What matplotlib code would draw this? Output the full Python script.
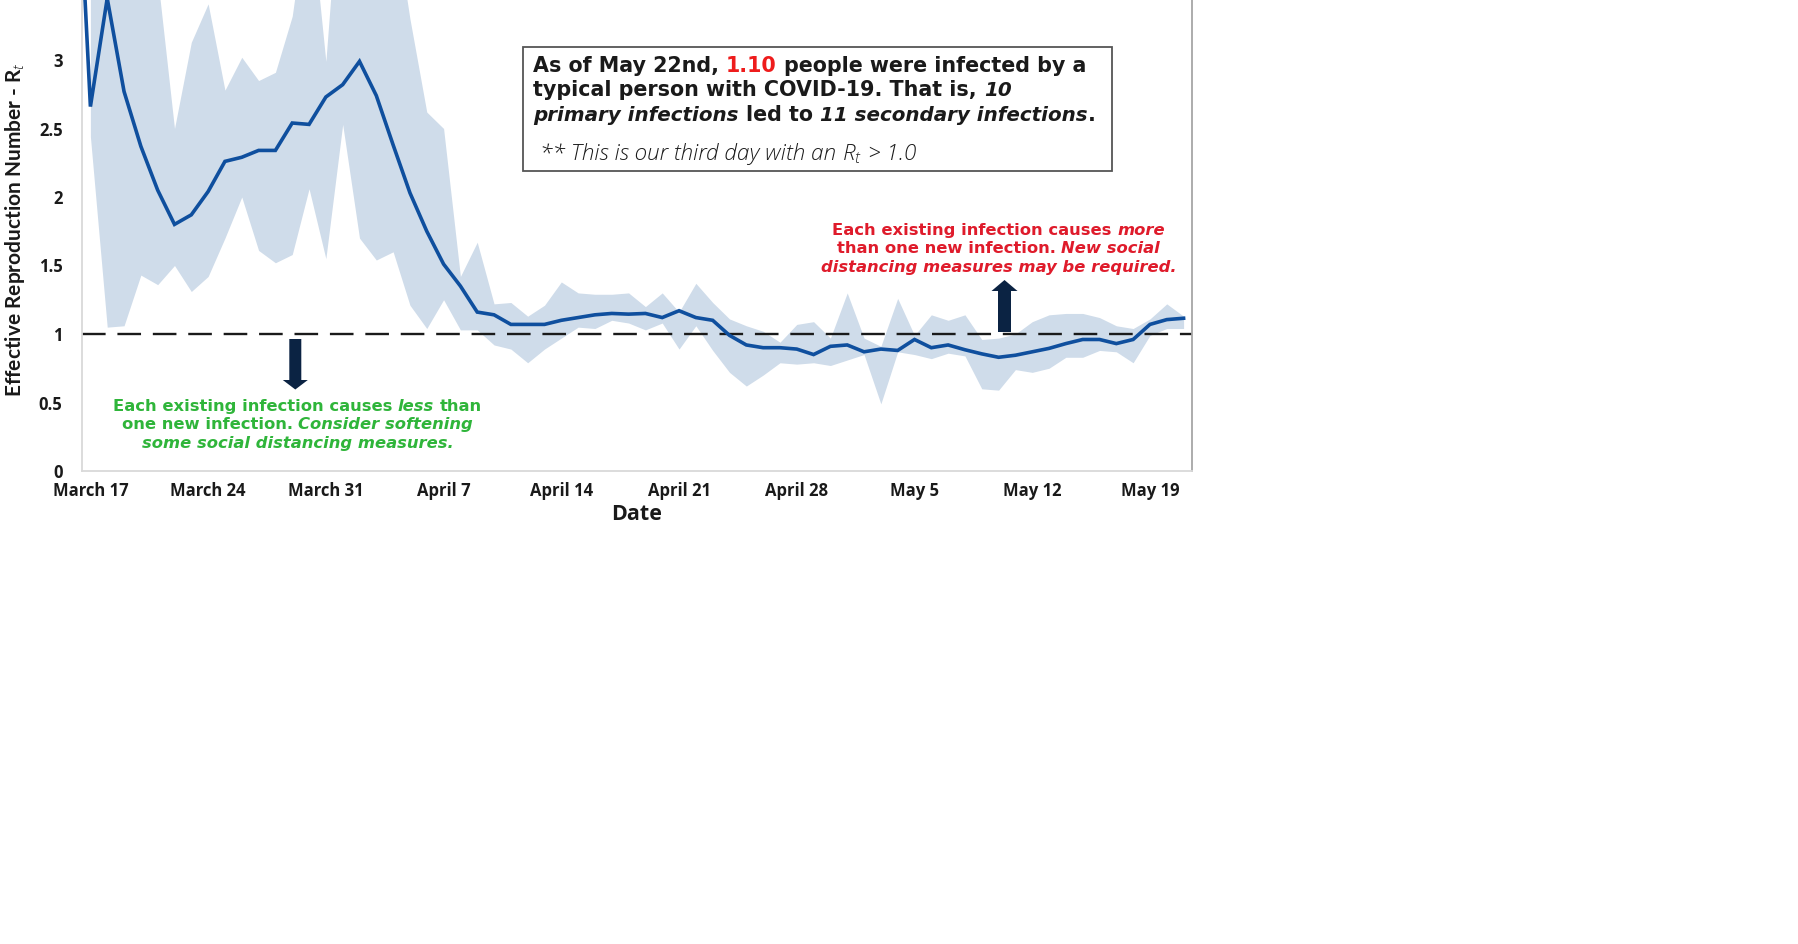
import numpy as np
import pandas as pd
import matplotlib
matplotlib.use("Agg")
import matplotlib.pyplot as plt
import matplotlib.dates as mdates
from matplotlib.patches import Rectangle, Polygon
from matplotlib.transforms import IdentityTransform

W, H = 1799, 944
FONT = "Open Sans"
WIDE = "DejaVu Sans"

# Rt estimate per day, starting March 16 (that first point sits above the plot)
rt_start = "2020-03-16"
rt_mean = [5.10, 2.66, 3.45, 2.77, 2.37, 2.05, 1.80, 1.87, 2.04, 2.26, 2.29, 2.34,
           2.34, 2.54, 2.53, 2.73, 2.82, 2.99, 2.74, 2.38, 2.03, 1.75, 1.51, 1.35,
           1.16, 1.14, 1.07, 1.07, 1.07, 1.10, 1.12, 1.14, 1.15, 1.145, 1.15, 1.12,
           1.17, 1.12, 1.10, 0.99, 0.92, 0.90, 0.90, 0.89, 0.85, 0.91, 0.92, 0.87,
           0.89, 0.88, 0.96, 0.90, 0.92, 0.885, 0.855, 0.83, 0.845, 0.87, 0.895,
           0.93, 0.96, 0.96, 0.93, 0.96, 1.07, 1.105, 1.115]

# credible interval, starting March 17
band_start = "2020-03-17"
rt_upper = [5.0, 5.5, 5.2, 4.6, 3.6, 2.50, 3.13, 3.41, 2.78, 3.02, 2.85, 2.91,
            3.32, 4.2, 2.99, 4.6, 5.0, 4.8, 4.1, 3.30, 2.62, 2.50,
            1.42, 1.67, 1.22, 1.23, 1.13, 1.21, 1.38, 1.30, 1.29, 1.29, 1.30,
            1.20, 1.30, 1.16, 1.37, 1.23, 1.11, 1.06, 1.02, 0.94, 1.07, 1.09,
            0.97, 1.30, 0.97, 0.91, 1.26, 0.99, 1.14, 1.10, 1.14, 0.96, 0.97,
            1.00, 1.09, 1.14, 1.15, 1.15, 1.12, 1.06, 1.04, 1.11, 1.22, 1.13]
rt_lower = [2.44, 1.05, 1.06, 1.43, 1.36, 1.50, 1.31, 1.42, 1.70, 2.00, 1.61, 1.52,
            1.58, 2.06, 1.55, 2.53, 1.70, 1.54, 1.60, 1.21, 1.04, 1.25,
            1.03, 1.03, 0.92, 0.89, 0.79, 0.89, 0.97, 1.05, 1.04, 1.10, 1.08,
            1.03, 1.08, 0.89, 1.06, 0.88, 0.72, 0.62, 0.70, 0.79, 0.78, 0.79,
            0.77, 0.81, 0.85, 0.49, 0.87, 0.85, 0.82, 0.86, 0.84, 0.60, 0.59,
            0.74, 0.72, 0.75, 0.83, 0.83, 0.88, 0.87, 0.79, 0.99, 1.04, 1.04]

tick_dates = ["2020-03-17", "2020-03-24", "2020-03-31", "2020-04-07", "2020-04-14",
              "2020-04-21", "2020-04-28", "2020-05-05", "2020-05-12", "2020-05-19"]
tick_labels = ["March 17", "March 24", "March 31", "April 7", "April 14",
               "April 21", "April 28", "May 5", "May 12", "May 19"]
y_ticks = [0, 0.5, 1, 1.5, 2, 2.5, 3]
y_tick_labels = ["0", "0.5", "1", "1.5", "2", "2.5", "3"]
threshold = 1.0

LINE_C = "#0f4f9e"
BAND_C = "#cfdcea"
GREEN = "#2fb53a"
RED = "#df1b2b"
NAVY = "#0b2343"
TXT = "#1a1a1a"

plt.rcParams["font.family"] = [FONT, "DejaVu Sans"]
plt.rcParams["mathtext.fontset"] = "custom"
plt.rcParams["mathtext.rm"] = FONT
plt.rcParams["mathtext.it"] = FONT + ":italic:light"
plt.rcParams["mathtext.bf"] = "Lato:bold"


def fx(x):
    return x / W


def fy(y):
    return 1 - y / H


fig = plt.figure(figsize=(W / 100, H / 100), dpi=100)
ax = fig.add_axes([fx(82), fy(471), (1192 - 82) / W, 3.5 * 137 / H])

x_mean = pd.date_range(rt_start, periods=len(rt_mean), freq="D")
x_band = pd.date_range(band_start, periods=len(rt_upper), freq="D")

ax.fill_between(x_band, rt_lower, rt_upper, color=BAND_C, lw=0, zorder=1)
ax.axhline(threshold, color=TXT, lw=1.7, ls=(0, (10, 5)), zorder=2)
ax.plot(x_mean, rt_mean, color=LINE_C, lw=2.6, zorder=3, solid_joinstyle="miter")

x0 = mdates.date2num(x_band[0]) - 0.5
x1 = mdates.date2num(x_band[-1]) + 0.5
ax.set_xlim(x0, x1)
ax.set_ylim(0, 3.5)

ax.set_xticks(pd.to_datetime(tick_dates))
ax.set_xticklabels(tick_labels, fontsize=12, fontweight="bold", color=TXT)
ax.set_yticks(y_ticks)
ax.set_yticklabels(y_tick_labels, fontsize=12, fontweight="bold", color=TXT)
ax.tick_params(axis="x", length=0, pad=8)
ax.tick_params(axis="y", length=0, pad=14)

ax.spines["top"].set_visible(False)
ax.spines["left"].set_color("#d9d9d9")
ax.spines["bottom"].set_color("#d9d9d9")
ax.spines["right"].set_color("#a6a6a6")
for s in ["left", "bottom", "right"]:
    ax.spines[s].set_linewidth(1.3)

ax.set_xlabel("Date", fontsize=15.5, fontweight="bold", color=TXT, va="center")
ax.xaxis.set_label_coords(0.5, -(515 - 471) / 479.5)
ax.set_ylabel(r"Effective Reproduction Number - $\mathbf{R}_{t}$", fontsize=15,
              fontweight="bold", family=["Lato", "DejaVu Sans"], color=TXT, va="center")
ax.yaxis.set_label_coords((15 - 82) / 1110, (471 - 230) / 479.5)

renderer = fig.canvas.get_renderer()


def text_width(s, props):
    t = fig.text(0, 0, s, transform=IdentityTransform(), **props)
    w = t.get_window_extent(renderer).width
    t.remove()
    return w


def draw_runs(runs, x, y, ha="left"):
    # runs of (text, props) on one baseline; x, y in pixels from the top left
    pieces = []
    total = 0
    for s, props in runs:
        lead = len(s) - len(s.lstrip(" "))
        trail = len(s) - len(s.rstrip(" "))
        core = s.strip(" ")
        sp = text_width("x x", props) - text_width("xx", props)
        w = text_width(core, props) if core else 0
        pieces.append((core, props, lead * sp, w, trail * sp))
        total += lead * sp + w + trail * sp
    if ha == "center":
        x -= total / 2
    for core, props, a, w, b in pieces:
        x += a
        if core:
            fig.text(x, H - y, core, transform=IdentityTransform(),
                     ha="left", va="baseline", **props)
        x += w + b


box_b = dict(fontsize=14.9, fontweight="bold", color=TXT, family=WIDE)
box_bi = dict(box_b, style="italic", fontsize=14.35)
box_red = dict(box_b, color="#ee1c1c")
note = dict(fontsize=16.2, fontweight="light", style="italic", color=TXT)

fig.add_artist(Rectangle((fx(523), fy(171)), (1112 - 523) / W, (171 - 47) / H,
                         transform=fig.transFigure, fill=False,
                         edgecolor="#555555", lw=1.3))
draw_runs([("As of May 22nd, ", box_b), ("1.10", box_red),
           (" people were infected by a", box_b)], 533, 71.7)
draw_runs([("typical person with COVID-19. That is, ", box_b), ("10", box_bi)], 533, 96.5)
draw_runs([("primary infections", box_bi), (" led to ", box_b),
           ("11 secondary infections", box_bi), (".", box_b)], 533, 121)
draw_runs([("** This is our third day with an ", note), (r"$\mathit{R}_{t}$", note),
           (" > 1.0", note)], 540, 160)

g_b = dict(fontsize=11.8, fontweight="bold", color=GREEN, family=WIDE)
g_bi = dict(g_b, style="italic")
draw_runs([("Each existing infection causes ", g_b), ("less", g_bi), (" than", g_b)],
          297.5, 410.7, "center")
draw_runs([("one new infection. ", g_b), ("Consider softening", g_bi)],
          297.5, 429.3, "center")
draw_runs([("some social distancing measures.", g_bi)], 297.5, 447.7, "center")

r_b = dict(fontsize=11.8, fontweight="bold", color=RED, family=WIDE)
r_bi = dict(r_b, style="italic")
draw_runs([("Each existing infection causes ", r_b), ("more", r_bi)], 998.5, 235, "center")
draw_runs([("than one new infection. ", r_b), ("New social", r_bi)], 998.5, 253.3, "center")
draw_runs([("distancing measures may be required.", r_bi)], 998.5, 271.7, "center")


def arrow(cx, y_tail, y_head_base, y_tip, shaft_w, head_w):
    pts = [(cx - shaft_w / 2, y_tail), (cx + shaft_w / 2, y_tail),
           (cx + shaft_w / 2, y_head_base), (cx + head_w / 2, y_head_base),
           (cx, y_tip), (cx - head_w / 2, y_head_base), (cx - shaft_w / 2, y_head_base)]
    fig.add_artist(Polygon([(fx(px), fy(py)) for px, py in pts], closed=True,
                           transform=fig.transFigure, facecolor=NAVY, edgecolor="none"))


arrow(295.3, 339, 380, 389.5, 12, 25)
arrow(1004.5, 332, 291, 280, 13, 26)

fig.savefig("out.png", dpi=100)
